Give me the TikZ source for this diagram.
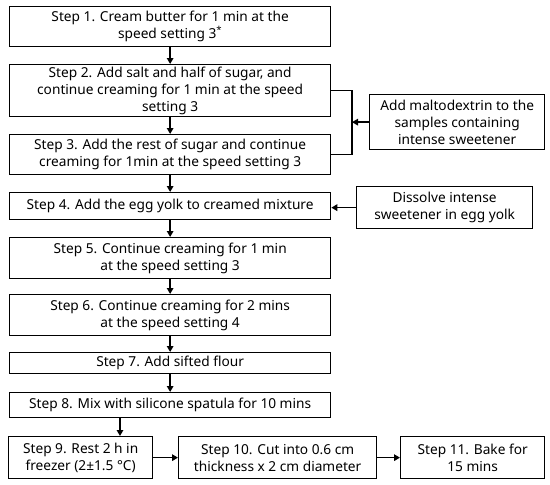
\documentclass[tikz,border=0pt]{standalone}
\usepackage{fontspec}
\setmainfont{Noto Sans}
\usetikzlibrary{arrows.meta}
\begin{document}
\begin{tikzpicture}[x=1pt,y=-1pt,
  box/.style={draw, line width=1.3pt, inner sep=0pt, align=center, anchor=north west,
    font=\fontsize{13.7}{16.8}\selectfont},
  arr/.style={line width=1.6pt, -{Triangle[length=6pt,width=6.5pt]}},
  conn/.style={line width=1.6pt}]
\useasboundingbox (0,0) rectangle (550,485);
\fill[white] (0,0) rectangle (550,485);
\node[box, minimum width=321pt, minimum height=40pt] (s1) at (9,6) {Step 1. Cream butter for 1 min at the\\speed setting 3\textsuperscript{*}};
\node[box, minimum width=321pt, minimum height=52pt] (s2) at (9,64) {Step 2. Add salt and half of sugar, and\\continue creaming for 1 min at the speed\\setting 3};
\node[box, minimum width=321pt, minimum height=40pt] (s3) at (9,134) {Step 3. Add the rest of sugar and continue\\creaming for 1min at the speed setting 3};
\node[box, minimum width=321pt, minimum height=27pt] (s4) at (9,192) {Step 4. Add the egg yolk to creamed mixture};
\node[box, minimum width=321pt, minimum height=41pt] (s5) at (9,237) {Step 5. Continue creaming for 1 min\\at the speed setting 3};
\node[box, minimum width=321pt, minimum height=41pt] (s6) at (9,294) {Step 6. Continue creaming for 2 mins\\at the speed setting 4};
\node[box, minimum width=321pt, minimum height=21pt] (s7) at (9,352) {Step 7. Add sifted flour};
\node[box, minimum width=321pt, minimum height=25pt] (s8) at (9,392) {Step 8. Mix with silicone spatula for 10 mins};
\node[box, minimum width=144pt, minimum height=42pt] (s9) at (8,436) {Step 9. Rest 2 h in\\freezer (2±1.5 °C)};
\node[box, minimum width=198pt, minimum height=42pt] (s10) at (178,436) {Step 10. Cut into 0.6 cm\\thickness x 2 cm diameter};
\node[box, minimum width=144pt, minimum height=42pt] (s11) at (400,436) {Step 11. Bake for\\15 mins};
\node[box, minimum width=175pt, minimum height=55pt] (malto) at (369,94) {Add maltodextrin to the\\samples containing\\intense sweetener};
\node[box, minimum width=176pt, minimum height=42pt] (dis) at (356,186) {Dissolve intense\\sweetener in egg yolk};
\coordinate (bx) at (352,0);
\coordinate (c89) at (120,0);
\draw[arr] (s1) -- (s2);
\draw[arr] (s2) -- (s3);
\draw[arr] (s3) -- (s4);
\draw[arr] (s4) -- (s5);
\draw[arr] (s5) -- (s6);
\draw[arr] (s6) -- (s7);
\draw[arr] (s7) -- (s8);
\draw[arr] (c89 |- s8.south) -- (c89 |- s9.north);
\draw[arr] (s9) -- (s10);
\draw[arr] (s10) -- (s11);
\draw[conn] (s2.east) -- (s2.east -| bx) -- (s3.east -| bx) -- (s3.east);
\draw[arr] (malto.west) -- (malto.west -| bx);
\draw[arr] (dis.west) -- (dis.west -| s4.east);
\end{tikzpicture}
\end{document}
